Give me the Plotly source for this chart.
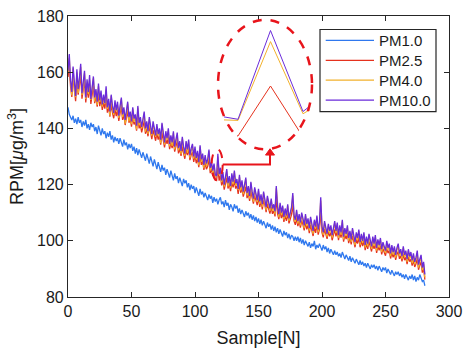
import plotly.graph_objects as go

# ---------------- data ----------------
pm10 = [
 160.5,166.5,157,153,162,155,151.5,161,154,158,
 163,152.5,156,160.5,151,157.5,153,159,150.5,155,
 158.5,151,154,149.5,156,150,153.5,148.5,152,149,
 155,147.5,150.5,146,152,148,145.5,150,146.5,149.5,
 144.5,148,151,145,147.5,143,146.5,149.5,144,146,
 142.5,147.5,143.5,145,141,148,142,144,140.5,143.5,
 146,140,142.5,139,144,141,138,142.5,139.5,137.5,
 141.5,138,140,136,142,137.5,135,139,136.5,140,
 134.5,137.5,135,139,133.5,136,138.5,133,135.5,132,
 137,133.5,131,135.5,132.5,136,130.5,133,134.5,130,
 133.5,129.5,132,128,134,129,131,127,130.5,127.5,
 129,132.5,126,128,125,127.5,123.5,123,131,123.7,
 126,121.5,124.5,120,123,125.5,120.5,123,119.5,124,
 121,125,120.5,122,118.5,123.5,119,121.5,117.5,120.5,
 122.5,117,119.5,116,121,117.5,115,119,116.5,114.5,
 118.5,114,116.5,113,117.5,115,112,116,113.5,111.5,
 115,111.5,113,110.5,119.5,112,109.5,113.5,110,112.5,
 108.5,111.5,109,113,108,110.5,112,117,109,107.5,
 111,107,109.5,106.5,110,108,105.5,109.5,106,108,
 104.5,108.5,106,103.5,107.5,105,109,104,106.5,115.5,
 105,103,107,104,102.5,106,103.5,105.5,102,104.5,
 107,103.5,106.5,102,105.5,103,107.5,101.5,104.5,102.5,
 105.5,101,103.5,100.5,104.5,102,99.5,103,101,104,
 99.5,102.5,100,103,98.5,101.5,99,102.5,100.5,98,
 101.5,99,102,97.5,100.5,98.5,101,97,99.5,98,
 96.5,100,97.5,99,95.5,98.5,96,98,95,97.5,
 99,95.5,97,94.5,98,95,96.5,93.5,97,94.5,
 96,93,95.5,92.5,94,96.5,91.5,93.5,95,90.5,92.5,88,
]

pm40 = [
 159.7,165.0,156.5,151.8,161.4,153.2,151.1,160.0,152.6,157.3,
 161.9,151.9,154.4,159.6,150.5,156.2,152.2,157.3,150.1,154.0,
 157.8,149.6,153.5,148.3,155.1,149.4,152.0,147.7,150.9,148.6,
 153.7,146.9,149.6,144.5,151.5,147.0,144.8,148.8,146.1,148.4,
 143.7,146.6,150.4,144.0,147.0,141.7,145.6,148.8,142.5,145.4,
 141.5,147.0,142.3,144.2,139.6,147.4,141.1,142.9,140.0,142.2,
 145.3,138.8,142.0,138.0,143.2,139.6,137.4,141.6,138.4,137.0,
 140.4,137.4,139.1,134.7,141.5,136.5,134.2,137.8,135.9,139.1,
 133.6,137.0,133.8,138.3,132.5,135.4,137.2,132.2,135.0,130.9,
 136.4,132.5,130.2,135.0,131.3,135.3,129.6,131.9,133.9,129.2,
 132.5,128.9,131.2,126.9,133.5,128.1,130.3,125.8,129.9,126.5,
 128.2,131.9,125.0,127.3,124.1,126.9,123.0,122.9,130.0,123.5,
 125.2,120.9,123.5,119.3,122.1,125.0,119.4,122.4,118.7,123.3,
 120.1,124.4,119.7,121.0,118.0,122.8,117.9,120.9,116.6,119.8,
 121.9,116.1,118.8,115.0,120.5,116.7,113.9,118.4,115.6,113.8,
 117.7,113.0,115.9,112.1,117.0,114.3,110.9,115.4,112.7,110.6,
 114.4,110.6,112.3,109.5,118.7,111.4,108.4,112.8,109.1,112.0,
 107.5,110.9,108.2,112.5,107.1,109.8,111.4,116.1,108.0,106.8,
 110.4,106.1,108.8,105.5,109.5,107.2,104.5,108.9,105.2,107.3,
 103.6,107.9,105.2,102.5,107.0,104.3,108.4,103.1,105.8,114.3,
 104.3,102.1,106.4,103.2,101.5,105.5,102.7,104.9,101.1,103.8,
 106.4,102.7,105.8,101.0,105.0,102.1,106.9,100.5,103.8,101.7,
 104.8,100.0,102.9,99.6,104.0,101.2,98.5,102.4,100.2,103.5,
 98.5,101.9,99.2,102.5,97.6,100.8,98.0,101.9,99.7,97.1,
 100.9,98.1,101.3,96.5,100.0,97.7,100.4,96.0,98.8,97.2,
 95.6,99.4,96.7,98.5,94.5,97.8,95.1,97.4,94.0,96.8,
 98.3,94.6,96.4,93.5,97.5,94.2,95.8,92.5,96.4,93.6,
 95.4,92.0,94.8,91.6,93.5,95.7,90.5,92.8,94.4,89.6,91.8,87.0,
]

pm25 = [
 158.3,162.0,155.0,151.2,158.5,152.8,149.7,157.4,152.0,155.2,
 159.2,150.6,153.5,157.1,149.2,154.3,150.9,155.5,148.7,152.6,
 155.2,149.0,151.4,147.7,152.6,147.9,150.5,146.6,149.2,147.0,
 151.5,145.6,147.9,144.2,148.7,145.6,143.6,146.9,144.4,146.6,
 142.7,145.4,147.6,143.0,145.0,141.2,143.9,146.3,142.0,143.6,
 140.6,144.2,141.4,142.3,139.2,144.4,140.0,141.5,138.6,140.9,
 142.6,138.1,139.9,137.2,140.8,138.7,136.2,139.5,137.3,135.6,
 138.4,136.0,137.4,134.2,138.5,135.3,133.2,136.1,134.5,136.9,
 132.6,134.9,133.0,135.7,131.7,133.6,135.5,131.1,133.0,130.2,
 133.6,131.2,129.2,132.5,130.5,132.8,128.7,130.6,131.6,128.1,
 130.5,127.6,129.4,126.2,130.5,127.0,128.5,125.2,127.6,125.5,
 126.5,129.2,124.1,125.6,123.1,124.8,121.6,121.5,126.0,121.4,
 123.3,119.7,121.6,118.2,120.6,122.5,118.6,120.5,117.7,120.8,
 119.0,121.6,118.6,119.6,116.7,120.4,117.1,118.9,115.7,118.0,
 119.3,115.2,117.0,114.2,117.7,115.3,113.2,116.1,114.3,112.7,
 115.5,112.1,114.1,111.2,114.4,112.8,110.2,113.2,111.4,109.7,
 112.1,109.6,110.7,108.7,115.3,109.7,107.7,110.6,108.1,110.0,
 106.7,109.0,107.1,110.0,106.2,108.2,109.3,113.0,107.0,105.7,
 108.1,105.2,107.1,104.7,107.2,105.8,103.7,106.7,104.1,105.6,
 102.7,105.7,103.8,101.7,104.8,102.8,106.0,102.2,104.1,111.0,
 102.9,101.2,104.2,101.9,100.7,103.3,101.6,103.0,100.2,102.1,
 104.1,101.6,103.8,100.2,103.0,101.1,104.5,99.7,102.1,100.6,
 102.7,99.2,101.1,98.7,101.7,99.9,97.7,100.5,99.0,101.3,
 97.7,100.0,98.1,100.2,96.7,99.1,97.1,99.8,98.4,96.2,
 98.8,97.1,99.2,95.7,98.0,96.6,98.3,95.2,97.2,96.0,
 94.7,97.2,95.6,96.6,93.7,95.9,94.1,95.6,93.2,95.1,
 96.2,93.6,94.7,92.7,95.3,93.1,94.1,91.7,94.3,92.6,
 93.4,91.2,93.1,90.7,91.8,93.8,89.7,91.3,92.5,88.7,90.3,86.2,
]

pm1 = [
 147.5,145,144,143,144.5,142,143.5,141.5,144,142,
 143,140.5,142.5,141,143,140,141.5,139.5,142,140.5,
 141.5,139,140.5,138,141,139.5,137.5,140,138,139,
 136.5,138.5,137,139,136,137.5,135,137,135.5,136.5,
 134.5,136.5,135,133.5,136,134,135,132.5,134.5,133,
 134.5,132,133.5,131,133,130.5,132.5,131,129.5,131.5,
 130,128.5,131,129,127.5,130,128,126.5,129,127,
 125.5,128,126.5,124.5,127,125,126,123.5,125.5,124,
 122.5,125,123.5,121.5,124,122,123,120.5,122.5,121,
 119.5,122,120.5,121.5,119,120.5,118,120,118.5,119.5,
 117,119,117.5,116,118.5,116.5,117.5,115.5,117,116,
 114.5,116.5,115,116,113.5,115.5,114,115,113,114.5,
 115.5,113,114,112,114.5,112.5,113.5,111,113,112,
 110.5,113,111.5,112.5,110,111.5,109.5,111,110,108.5,
 110.5,109,110,108,109.5,107.5,109,107,108.5,106.5,
 108,106,107.5,105.5,107,106,104.5,106.5,105,106,
 104,105.5,103.5,105,103,104.5,102.5,104,103,101.5,
 103.5,102,103,101,102.5,100.5,102,101.5,100,101.5,
 100,101.5,99.5,101,99,100.5,98.5,100,99,98,
 99.5,97.5,99,98,100,97,98.5,97.5,99,98,
 96.5,98.5,97,98,96,97.5,95.5,97,96,95,
 96.5,95,96,94.5,95.5,94,96,94.5,93.5,95,
 94,93,94.5,92.5,94,93,92,93.5,92.5,91.5,
 93,91.5,92.5,91,92,90.5,92,91,90,91.5,
 90.5,91.5,90,91,89.5,91,90,89,90.5,89.5,
 90.5,88.5,90,89,88,89.5,88.5,87.5,89,88,
 89,87.5,88.5,87,88,86.5,88,87,86,87.5,
 86.5,88,86,87.5,85.5,87,86,88,86.5,85.5,86,84,
]

series_names = ["PM1.0", "PM2.5", "PM4.0", "PM10.0"]
series_colors = ["#2F78EE", "#E5321E", "#F2B12C", "#6A2BDA"]
x_ticks = [0, 50, 100, 150, 200, 250, 300]
y_ticks = [80, 100, 120, 140, 160, 180]
zoom_samples = [116, 117, 118, 119, 120]   # samples shown magnified in the inset

samples = list(range(len(pm10)))
all_series = [pm1, pm25, pm40, pm10]

W, H = 474, 353
ML, MR, MT, MB = 68, 25, 8, 54
PW, PH = W - ML - MR, H - MT - MB


def px(xp):
    return (xp - ML) / PW


def py(yp):
    return (H - MB - yp) / PH


FONT = "Liberation Sans, Arial, sans-serif"
fig = go.Figure()
for name, col, ys in zip(series_names, series_colors, all_series):
    fig.add_trace(go.Scatter(x=samples, y=ys, mode="lines", name=name,
                             showlegend=False,
                             line=dict(color=col, width=1.3)))

# inset (magnified view of the marked peak)
zi = [samples.index(s) for s in zoom_samples]
for name, col, ys, xa in [("PM2.5", series_colors[1], pm25, "x3"),
                          ("PM4.0", series_colors[2], pm40, "x2"),
                          ("PM10.0", series_colors[3], pm10, "x2")]:
    fig.add_trace(go.Scatter(x=[samples[i] for i in zi], y=[ys[i] for i in zi],
                             mode="lines", line=dict(color=col, width=1),
                             xaxis=xa, yaxis="y2", showlegend=False,
                             hoverinfo="skip"))

axis_font = dict(family=FONT, size=16, color="#1a1a1a")
common = dict(showline=True, linecolor="#262626", linewidth=1.2, mirror="ticks",
              ticks="inside", ticklen=5, tickwidth=1, tickcolor="#262626",
              showgrid=False, zeroline=False, tickfont=axis_font)

fig.update_layout(
    width=W, height=H, autosize=False,
    margin=dict(l=ML, r=MR, t=MT, b=MB),
    paper_bgcolor="white", plot_bgcolor="rgba(0,0,0,0)",
    font=dict(family=FONT, color="#1a1a1a"),
    xaxis=dict(range=[0, 300], tickvals=x_ticks, **common,
               title=dict(text="Sample[N]", font=dict(size=18), standoff=12)),
    yaxis=dict(range=[80, 180], tickvals=y_ticks, **common,
               title=dict(text="RPM[<i>μ</i>g/m<sup>3</sup>]", font=dict(size=18), standoff=8)),
    xaxis2=dict(domain=[px(224), px(310)], range=[116.569, 119.215], anchor="y2",
                visible=False),
    xaxis3=dict(domain=[px(237), px(299)], range=[116.969, 118.877], anchor="y2",
                visible=False),
    yaxis2=dict(domain=[py(146), py(12)], range=[120.30, 131.96], anchor="x2",
                visible=False),
    showlegend=False,
)

# legend box (drawn as in the reference: long sample lines, tight rows)
LX0, LX1, LY0, LY1 = 320, 436, 22, 107
fig.add_shape(type="rect", xref="paper", yref="paper",
              x0=px(LX0), x1=px(LX1), y0=py(LY1), y1=py(LY0),
              line=dict(color="#262626", width=1.2), fillcolor="white", layer="above")
for k, (name, col) in enumerate(zip(series_names, series_colors)):
    rowy = 33.3 + k * 20.6
    fig.add_shape(type="line", xref="paper", yref="paper",
                  x0=px(325.7), x1=px(374), y0=py(rowy), y1=py(rowy),
                  line=dict(color=col, width=1.2), layer="above")
    fig.add_annotation(x=px(377), y=py(rowy), xref="paper", yref="paper",
                       text=name, showarrow=False, xanchor="left", yanchor="middle",
                       font=dict(family=FONT, size=15, color="#1a1a1a"))

red = "#E8141B"
fig.add_shape(type="circle", xref="paper", yref="paper",
              x0=px(218), x1=px(312), y0=py(146), y1=py(12),
              line=dict(color=red, width=2.5, dash="dash"))
fig.add_shape(type="circle", xref="x", yref="y",
              x0=113.1, x1=121.8, y0=121.5, y1=132.6,
              line=dict(color=red, width=2, dash="dash"))
fig.add_shape(type="path", xref="paper", yref="paper",
              path=(f"M{px(222.7)},{py(161.7)} L{px(270)},{py(161.7)} "
                    f"L{px(270)},{py(151)}"),
              line=dict(color=red, width=2))
fig.add_shape(type="path", xref="paper", yref="paper",
              path=(f"M{px(265.5)},{py(152)} L{px(274.5)},{py(152)} "
                    f"L{px(270)},{py(145.5)} Z"),
              line=dict(color=red, width=1), fillcolor=red)

fig.write_html("out.html")
